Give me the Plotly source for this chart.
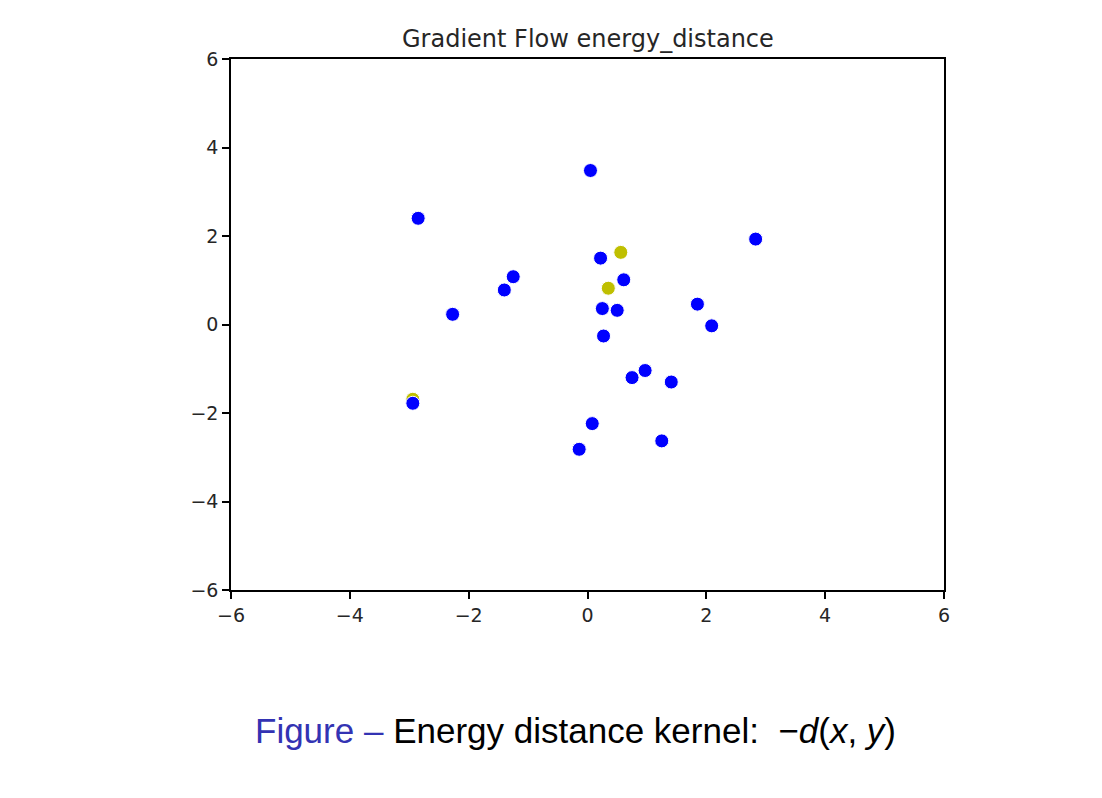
import plotly.graph_objects as go

# particle positions
blue_x = [0.05, -2.85, 2.83, 0.22, -1.25, 0.61, -1.40, -2.27, 0.25, 0.50, 1.85,
          2.09, 0.27, 0.97, 0.75, 1.41, -2.94, 0.08, -0.14, 1.25]
blue_y = [3.48, 2.40, 1.93, 1.50, 1.08, 1.01, 0.78, 0.23, 0.36, 0.32, 0.46,
          -0.03, -0.26, -1.04, -1.20, -1.30, -1.78, -2.24, -2.82, -2.63]

yellow_x = [0.56, 0.35, -2.94]
yellow_y = [1.63, 0.82, -1.69]

ticks = [-6, -4, -2, 0, 2, 4, 6]
tick_text = ["\u22126", "\u22124", "\u22122", "0", "2", "4", "6"]

fig = go.Figure()

# yellow first so the blue one covers it at (-2.94, -1.7)
fig.add_trace(go.Scatter(
    x=yellow_x, y=yellow_y, mode="markers",
    marker=dict(color="#bfbf00", size=14, line=dict(color="white", width=1)),
))
fig.add_trace(go.Scatter(
    x=blue_x, y=blue_y, mode="markers",
    marker=dict(color="#0000ff", size=14, line=dict(color="white", width=1)),
))

axis = dict(
    range=[-6, 6], tickvals=ticks, ticktext=tick_text,
    showgrid=False, zeroline=False,
    showline=True, linecolor="black", linewidth=1.5, mirror=True,
    ticks="outside", ticklen=7, tickwidth=1.5, tickcolor="black",
    tickfont=dict(family="DejaVu Sans", size=19, color="#262626"),
)

# page body adds 8px, so margins are shifted by that
fig.update_layout(
    width=1102, height=798,
    margin=dict(l=223, r=166, t=51, b=216),
    paper_bgcolor="white", plot_bgcolor="white",
    showlegend=False,
    xaxis=axis, yaxis=axis,
)

fig.add_annotation(
    text="Gradient Flow energy_distance",
    x=0.5, y=1, xref="paper", yref="paper",
    xanchor="center", yanchor="bottom", yshift=4, showarrow=False,
    font=dict(family="DejaVu Sans", size=24, color="#262626"),
)

fig.add_annotation(
    text="<span style='color:#3333b3'>Figure \u2013</span> Energy distance kernel:  "
         "\u2212<i>d</i>(<i>x</i>, <i>y</i>)",
    x=0.483, y=-0.264, xref="paper", yref="paper",
    xanchor="center", yanchor="middle", showarrow=False,
    font=dict(family="Liberation Sans", size=35, color="black"),
)

fig.write_html("out.html")
